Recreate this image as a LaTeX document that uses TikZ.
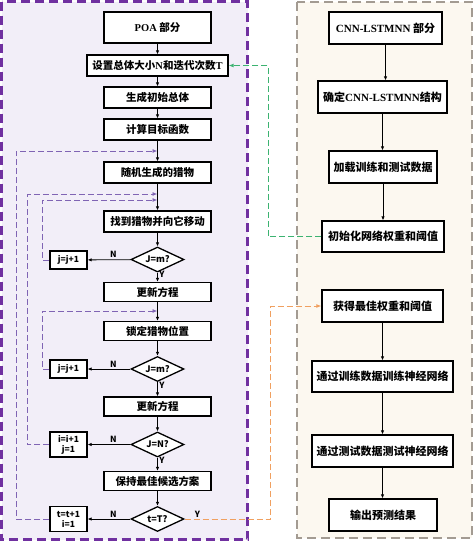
\documentclass[tikz,border=0pt]{standalone}
\usepackage{fontspec}
\setmainfont{Liberation Serif}
\newfontfamily\cjk{Noto Sans CJK SC}
\usepackage{xcolor}
\usepackage{tikz}
\usetikzlibrary{shapes,shapes.geometric,arrows.meta,positioning}

\definecolor{poaframe}{HTML}{7030A0}
\definecolor{poafill}{HTML}{F2EEF8}
\definecolor{nnframe}{HTML}{A39B92}
\definecolor{nnfill}{HTML}{FCF8F0}
\definecolor{loopcol}{HTML}{8064B4}
\definecolor{greencol}{HTML}{3CB371}
\definecolor{orangecol}{HTML}{F0A060}

\begin{document}
\begin{tikzpicture}[x=1pt, y=-1pt,
    box/.style={rectangle, draw, line width=1.3pt, fill=white, minimum width=107pt,
                minimum height=21pt, inner sep=0pt, align=center,
                font=\cjk\bfseries\fontsize{10.5}{12}\selectfont},
    nnbox/.style={rectangle, draw, line width=1.3pt, fill=white, minimum height=32pt,
                  inner sep=0pt, align=center, font=\cjk\bfseries\fontsize{11}{13}\selectfont},
    decide/.style={diamond, draw, line width=1.3pt, fill=white, minimum width=53pt,
                   minimum height=25pt, inner sep=0pt, aspect=2.1,
                   font=\cjk\bfseries\fontsize{9}{10}\selectfont},
    counter/.style={rectangle, draw, line width=1.3pt, fill=white, minimum width=37pt,
                    minimum height=18pt, inner sep=0pt, align=center,
                    font=\cjk\bfseries\fontsize{8.5}{10}\selectfont},
    arrow/.style={-{Latex[length=4pt,width=3.5pt]}, line width=0.8pt},
    loopline/.style={-{Latex[length=5pt,width=4pt]}, dash pattern=on 6pt off 3pt,
                     line width=0.9pt, loopcol},
    greenline/.style={-{Latex[length=5pt,width=4pt]}, dash pattern=on 6pt off 3pt,
                      line width=0.9pt, greencol},
    orangeline/.style={-{Latex[length=5pt,width=4pt]}, dash pattern=on 6pt off 3pt,
                       line width=0.9pt, orangecol},
    lbl/.style={font=\cjk\bfseries\fontsize{8.5}{10}\selectfont, inner sep=1.5pt, text=black}
]
    \useasboundingbox (0,0) rectangle (474,542);

    % Frames
    \draw[poaframe, fill=poafill, line width=2.4pt, dash pattern=on 9pt off 5pt]
        (1.5,1.5) rectangle (247.5,539.5);
    \draw[nnframe, fill=nnfill, line width=1.8pt, dash pattern=on 9pt off 5pt]
        (297,2) rectangle (472,538);

    % POA Side
    \node[box, minimum height=31pt] (poa) at (157.5,27.5) {{\rmfamily POA} 部分};
    \node[box, minimum width=141pt] (setn) at (157.5,65.5) {设置总体大小{\rmfamily N}和迭代次数{\rmfamily T}};
    \node[box] (initpop) at (157.5,97.5) {生成初始总体};
    \node[box] (obj) at (157.5,129.5) {计算目标函数};
    \node[box] (prey) at (157.5,172.5) {随机生成的猎物};
    \node[box] (move) at (157.5,221.5) {找到猎物并向它移动};
    \node[decide] (d1) at (157.5,259.5) {J=m?};
    \node[counter] (j1) at (68.5,260) {j=j+1};
    \node[box, minimum height=19pt] (upd1) at (157.5,292) {更新方程};
    \node[box, minimum height=19pt] (lock) at (157.5,331) {锁定猎物位置};
    \node[decide] (d2) at (157.5,369) {J=m?};
    \node[counter] (j2) at (68.5,369) {j=j+1};
    \node[box, minimum height=19pt] (upd2) at (157.5,406.5) {更新方程};
    \node[decide] (d3) at (157.5,444.5) {J=N?};
    \node[counter, minimum height=25pt] (ibox) at (68.5,444.5) {i=i+1\\j=1};
    \node[box, minimum height=19pt] (keep) at (157.5,481) {保持最佳候选方案};
    \node[decide] (d4) at (157.5,519) {t=T?};
    \node[counter, minimum height=25pt] (tbox) at (68.5,519) {t=t+1\\i=1};

    \coordinate (in1) at (157.5,151);
    \coordinate (in2) at (157.5,194);
    \coordinate (in3) at (157.5,200);
    \coordinate (in4) at (157.5,311);

    \draw[arrow] (poa) -- (setn);
    \draw[arrow] (setn) -- (initpop);
    \draw[arrow] (initpop) -- (obj);
    \draw[arrow] (obj) -- (prey);
    \draw[arrow] (prey) -- (move);
    \draw[arrow] (move) -- (d1);
    \draw[arrow] (d1) -- node[lbl, pos=0.2, right] {Y} (upd1);
    \draw[arrow] (d1) -- node[lbl, pos=0.4, above] {N} (j1);
    \draw[arrow] (upd1) -- (lock);
    \draw[arrow] (lock) -- (d2);
    \draw[arrow] (d2) -- node[lbl, pos=0.2, right] {Y} (upd2);
    \draw[arrow] (d2) -- node[lbl, pos=0.4, above] {N} (j2);
    \draw[arrow] (upd2) -- (d3);
    \draw[arrow] (d3) -- node[lbl, pos=0.2, right] {Y} (keep);
    \draw[arrow] (d3) -- node[lbl, pos=0.4, above] {N} (ibox);
    \draw[arrow] (keep) -- (d4);
    \draw[arrow] (d4) -- node[lbl, pos=0.4, above] {N} (tbox);

    % loops back
    \draw[loopline] (tbox.west) -- ++(-33,0) |- (in1);
    \draw[loopline] (ibox.west) -- ++(-22,0) |- (in2);
    \draw[loopline] (j1.west) -- ++(-7,0) |- (in3);
    \draw[loopline] (j2.west) -- ++(-7,0) |- (in4);

    % CNN-LSTMNN Side
    \node[nnbox, minimum width=113pt] (nnhead) at (385.5,28) {{\rmfamily CNN-LSTMNN} 部分};
    \node[nnbox, minimum width=129pt] (struct) at (382.5,97) {确定{\rmfamily CNN-LSTMNN}结构};
    \node[nnbox, minimum width=108pt] (load) at (383,167) {加载训练和测试数据};
    \node[nnbox, minimum width=122pt, minimum height=31pt] (initw) at (383,236.5) {初始化网络权重和阈值};
    \node[nnbox, minimum width=121pt] (best) at (382.5,306) {获得最佳权重和阈值};
    \node[nnbox, minimum width=141pt, minimum height=31pt] (train) at (382.5,376.5) {通过训练数据训练神经网络};
    \node[nnbox, minimum width=141pt] (test) at (382.5,451) {通过测试数据测试神经网络};
    \node[nnbox, minimum width=108pt] (outp) at (383,515) {输出预测结果};

    \draw[arrow] (nnhead) -- (nnhead |- struct.north);
    \draw[arrow] (struct) -- (struct |- load.north);
    \draw[arrow] (load) -- (load |- initw.north);
    \draw[arrow] (best) -- (best |- train.north);
    \draw[arrow] (train) -- (train |- test.north);
    \draw[arrow] (test) -- (test |- outp.north);

    % links between sides
    \draw[greenline] (initw.west) -- ++(-53,0) |- (setn.east);
    \draw[orangeline] (d4.east) -- node[lbl, pos=0.15, above] {Y} ++(86,0) |- (best.west);

\end{tikzpicture}
\end{document}
